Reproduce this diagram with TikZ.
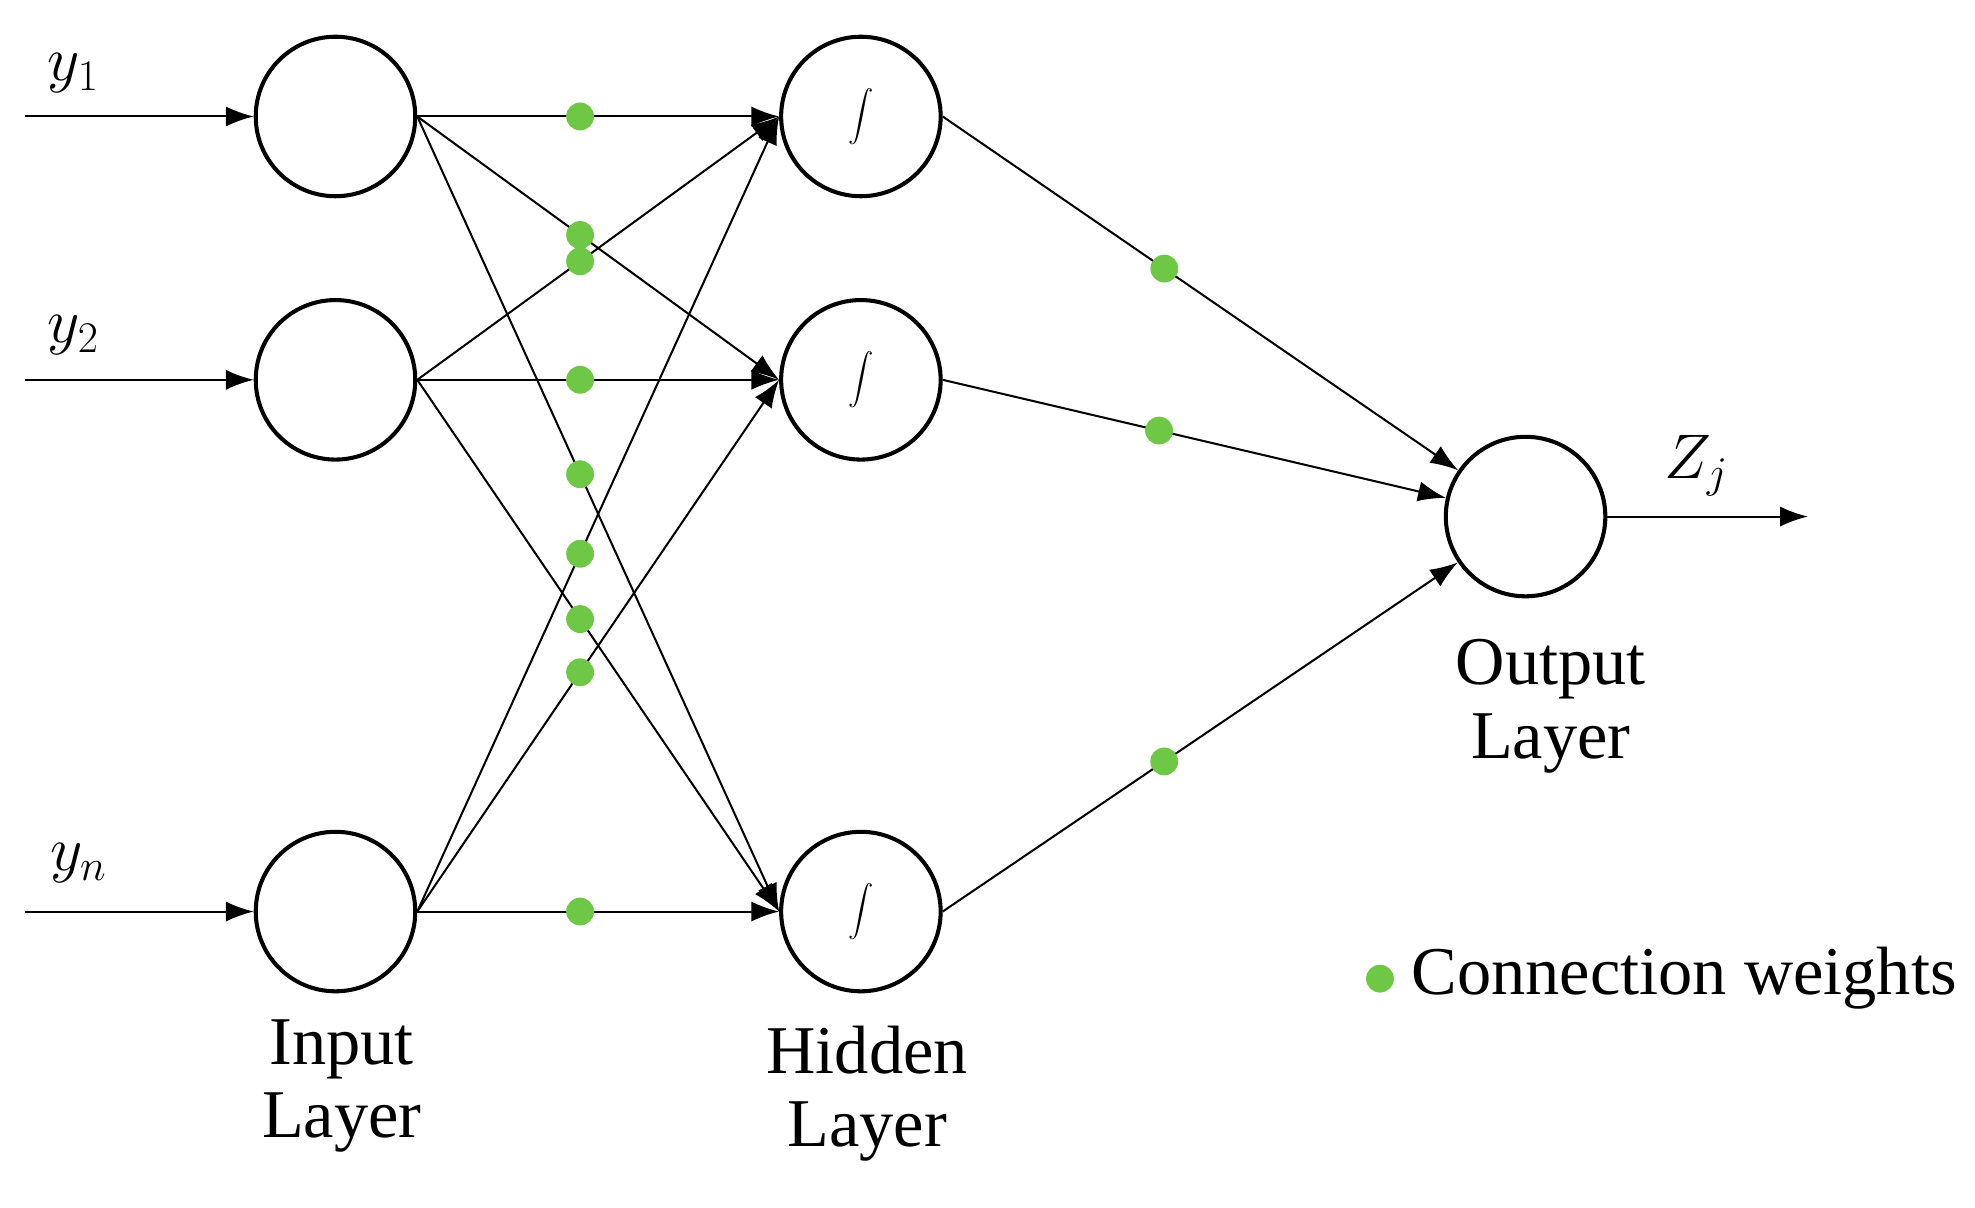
\documentclass[tikz,border=0pt]{standalone}
\usepackage{fontspec}
\setmainfont{Liberation Serif}
\usetikzlibrary{arrows.meta}
\begin{document}
\begin{tikzpicture}[x=0.5pt,y=0.5pt,yscale=-1,
  neuron/.style={circle,draw,line width=1.6pt,minimum size=63pt,inner sep=0pt},
  hid/.style={neuron,font=\fontsize{20}{22}\selectfont},
  conn/.style={line width=0.8pt,-{Latex[length=11pt,width=8pt]}},
  wdot/.style={circle,fill=wgreen,inner sep=0pt,minimum size=11pt},
  lbl/.style={font=\fontsize{27}{29}\selectfont,align=center}]
\definecolor{wgreen}{RGB}{110,200,70}
\useasboundingbox (0,0) rectangle (1560,954);
% nodes
\node[neuron] (i1) at (265,92) {};
\node[neuron] (i2) at (265,300) {};
\node[neuron] (i3) at (265,720) {};
\node[hid] (h1) at (680,92) {$\displaystyle\int$};
\node[hid] (h2) at (680,300) {$\displaystyle\int$};
\node[hid] (h3) at (680,720) {$\displaystyle\int$};
\node[neuron] (o) at (1205,408) {};
\coordinate (in1) at (20,92);
\coordinate (in2) at (20,300);
\coordinate (in3) at (20,720);
\coordinate (out) at (1428,408);
% inputs
\foreach \k in {1,2,3} \draw[conn] (in\k) -- (i\k);
\draw[conn] (o) -- (out);
% input -> hidden
\foreach \a in {1,2,3}
  \foreach \b in {1,2,3}
    \draw[conn] (i\a.east) -- node[pos=0.45,wdot]{} (h\b.west);
% hidden -> output
\foreach \b in {1,2,3}
  \draw[conn] (h\b.east) -- node[pos=0.43,wdot]{} (o);
% labels
\node[font=\fontsize{24}{26}\selectfont] (ly1) at (58,58) {$y_1$};
\node[font=\fontsize{24}{26}\selectfont] (ly2) at (58,265) {$y_2$};
\node[font=\fontsize{24}{26}\selectfont] (lyn) at (62,682) {$y_n$};
\node[font=\fontsize{24}{26}\selectfont] (lz) at (1340,368) {$Z_j$};
\node[lbl] (li) at (270,858) {Input\\Layer};
\node[lbl] (lh) at (685,864) {Hidden\\Layer};
\node[lbl] (lo) at (1225,558) {Output\\Layer};
\node[wdot] (ld) at (1090,773) {};
\node[lbl,anchor=west] (lc) at (1108,773) {Connection weights};
\end{tikzpicture}
\end{document}
